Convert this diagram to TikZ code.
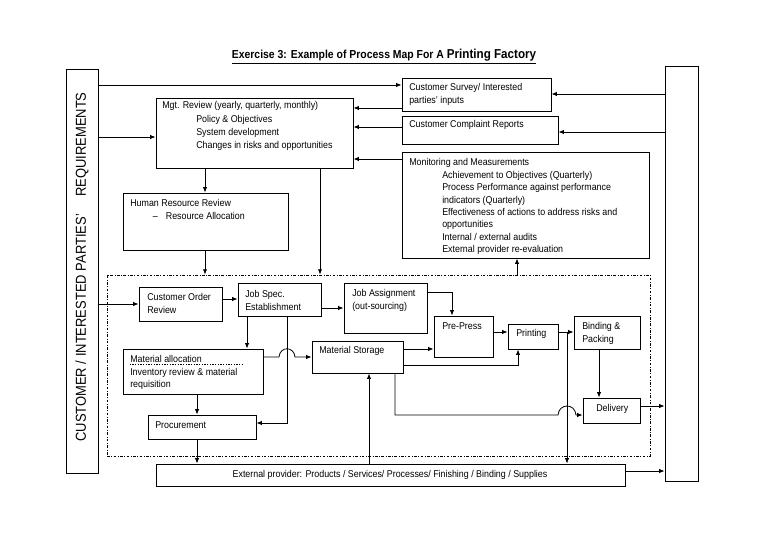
\documentclass[tikz,border=0pt]{standalone}
\usepackage{fontspec}
\setmainfont{Liberation Sans}[FakeStretch=0.9]
\usetikzlibrary{arrows.meta,fit,calc}
\newcommand{\bodyfont}{\fontsize{7.4}{9.3}\selectfont}
\begin{document}
\begin{tikzpicture}[x=0.75pt,y=-0.75pt,
  box/.style={draw, line width=0.7pt, inner sep=0pt},
  region/.style={draw, line width=0.6pt, inner sep=0pt, dash pattern=on 2pt off 1.2pt on 0.5pt off 1.2pt},
  txt/.style={anchor=north west, inner sep=0pt, align=left, font=\bodyfont},
  arr/.style={line width=0.6pt, -{Latex[length=4pt,width=3.2pt]}},
  ln/.style={line width=0.6pt},
  under/.style={line width=0.5pt, dash pattern=on 1.2pt off 0.8pt}]
\useasboundingbox (0,0) rectangle (768,543);

% title
\node[inner sep=0pt] (title) at (384,57) {\underline{\bfseries\fontsize{8.7}{10}\selectfont Exercise 3: Example of Process Map For A \fontsize{9.7}{11}\selectfont Printing Factory}};

% boxes
\node[box, fit={(66,69) (98,473)}] (lbox) {};
\node[rotate=90, inner sep=0pt, font=\fontsize{10.8}{12}\selectfont] (ltext) at (82,267) {CUSTOMER / INTERESTED PARTIES'\hspace*{1.2em}REQUIREMENTS};
\node[box, fit={(665,66) (698,481)}] (rbox) {};

\node[box, fit={(156,98) (353,168)}] (mgt) {};
\node[txt, font=\fontsize{7.4}{10}\selectfont] (mgtT) at (162,101.5) {Mgt. Review (yearly, quarterly, monthly)\\
\hspace*{25.5pt}Policy \& Objectives\\
\hspace*{25.5pt}System development\\
\hspace*{25.5pt}Changes in risks and opportunities};

\node[box, fit={(402,78) (551,111)}] (survey) {};
\node[txt] (surveyT) at (409,83.5) {Customer Survey/ Interested\\parties' inputs};

\node[box, fit={(402,116) (558,144)}] (complaint) {};
\node[txt] (complaintT) at (409,120.5) {Customer Complaint Reports};

\node[box, fit={(402,152) (649,258)}] (monitor) {};
\node[txt] (monitorT) at (409,158.5) {Monitoring and Measurements\\
\hspace*{24.75pt}Achievement to Objectives (Quarterly)\\
\hspace*{24.75pt}Process Performance against performance\\
\hspace*{24.75pt}indicators (Quarterly)\\
\hspace*{24.75pt}Effectiveness of actions to address risks and\\
\hspace*{24.75pt}opportunities\\
\hspace*{24.75pt}Internal / external audits\\
\hspace*{24.75pt}External provider re-evaluation};

\node[box, fit={(123,193) (288,250)}] (hr) {};
\node[txt] (hrT) at (130,199.5) {Human Resource Review\\
\hspace*{17pt}--\hspace*{6pt}Resource Allocation};

\node[region, fit={(107,275) (650,456)}] (scope) {};

\node[box, fit={(139,287) (222,321)}] (cor) {};
\node[txt] (corT) at (147,293.5) {Customer Order\\Review};

\node[box, fit={(238,283) (321,316)}] (jobspec) {};
\node[txt] (jobspecT) at (245,290.5) {Job Spec.\\Establishment};

\node[box, fit={(344,283) (427,333)}] (jobassign) {};
\node[txt] (jobassignT) at (352,289.5) {Job Assignment\\(out-sourcing)};

\node[box, fit={(434,316) (493,357)}] (prepress) {};
\node[txt] (prepressT) at (442,322.5) {Pre-Press};

\node[box, fit={(508,324) (558,349)}] (printing) {};
\node[txt] (printingT) at (516,329.5) {Printing};

\node[box, fit={(574,316) (640,349)}] (binding) {};
\node[txt] (bindingT) at (582,322.5) {Binding \&\\Packing};

\node[box, fit={(312,341) (403,373)}] (matstor) {};
\node[txt] (matstorT) at (319,346.5) {Material Storage};

\node[box, fit={(583,398) (640,423)}] (delivery) {};
\node[txt] (deliveryT) at (596,404.5) {Delivery};

\node[box, fit={(123,349) (263,394)}] (matalloc) {};
\node[txt] (matallocT) at (130,355.5) {Material allocation\\Inventory review \& material\\requisition};
\draw[under] ($(matalloc.north west)+(7,15.5)$) -- ($(matalloc.north west)+(120,15.5)$);

\node[box, fit={(148,415) (256,439)}] (procure) {};
\node[txt] (procureT) at (155,421.5) {Procurement};

\node[box, fit={(156,464) (625,486)}] (external) {};
\node[inner sep=0pt, font=\bodyfont] (externalT) at (390,474.5) {External provider: Products / Services/ Processes/ Finishing / Binding / Supplies};

% connectors
\draw[arr] (lbox.east |- 0,85) -- (survey.west |- 0,85);
\draw[arr] (lbox.east |- 0,137) -- (mgt.west |- 0,137);
\draw[arr] (lbox.east |- 0,304) -- (cor.west |- 0,304);
\draw[arr] (rbox.west |- 0,94) -- (survey.east |- 0,94);
\draw[arr] (rbox.west |- 0,132) -- (complaint.east |- 0,132);
\draw[arr] (survey.west |- 0,108) -- (mgt.east |- 0,108);
\draw[arr] (complaint.west |- 0,127) -- (mgt.east |- 0,127);
\draw[arr] (monitor.west |- 0,159) -- (mgt.east |- 0,159);
\draw[arr] (mgt.south -| 205,0) -- (hr.north -| 205,0);
\draw[arr] (mgt.south -| 320,0) -- (scope.north -| 320,0);
\draw[arr] (hr.south -| 205,0) -- (scope.north -| 205,0);
\draw[arr] (scope.north -| 517,0) -- (monitor.south -| 517,0);

\draw[arr] (cor.east |- 0,299) -- (jobspec.west |- 0,299);
\draw[arr] (jobspec.east |- 0,308) -- (jobassign.west |- 0,308);
\draw[arr] (jobassign.east |- 0,292) -| (prepress.north -| 452,0);
\draw[arr] (prepress.east |- 0,332) -- (printing.west |- 0,332);
\draw[arr] (printing.east |- 0,332) -- (binding.west |- 0,332);
\coordinate (split) at (567,332);
\draw[arr] (split) -- (external.north -| split);
\draw[arr] (binding.south -| 599,0) -- (delivery.north -| 599,0);
\draw[arr] (delivery.east |- 0,406) -- (rbox.west |- 0,406);

\draw[arr] (matstor.east |- 0,349) -- (prepress.west |- 0,349);
\draw[arr] (matstor.east |- 0,365) -| (printing.south -| 518,0);
\draw[arr] (matstor.south -| 395,0) |- (558,415) .. controls (559,403) and (575,403) .. (576,415) -- (delivery.west |- 0,415);

\draw[arr] (jobspec.south -| 247,0) -- (matalloc.north -| 247,0);
\draw[arr] (matalloc.east |- 0,357) -- (279,357) .. controls (280,346) and (294,346) .. (295,357) -- (matstor.west |- 0,357);
\draw[arr] (jobspec.south -| 287,0) |- (procure.east |- 0,423);
\draw[arr] (matalloc.south -| 197,0) -- (procure.north -| 197,0);
\draw[arr] (procure.south -| 197,0) -- (external.north -| 197,0);
\draw[arr] (external.east |- 0,471) -- (rbox.west |- 0,471);
\draw[arr] (external.north -| 369,0) -- (matstor.south -| 369,0);
\end{tikzpicture}
\end{document}
